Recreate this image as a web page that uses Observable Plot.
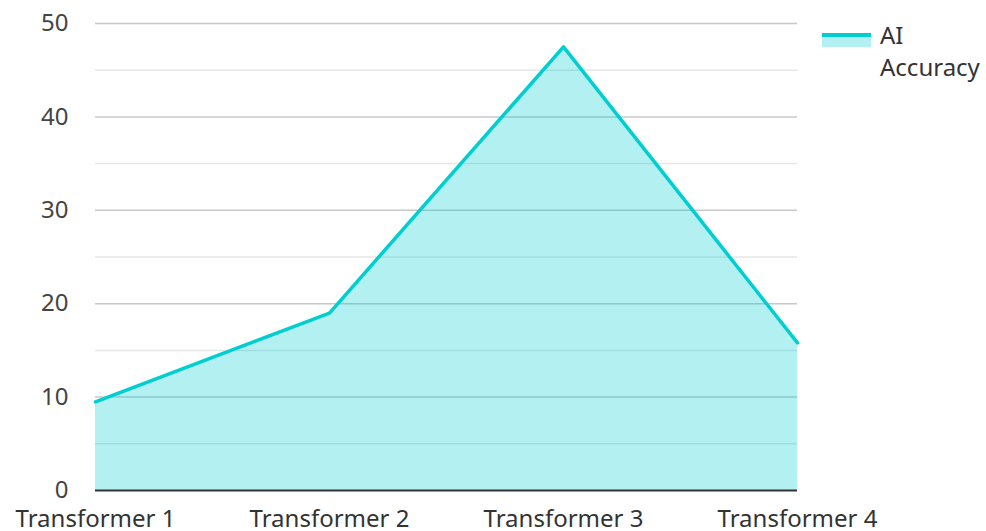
<!DOCTYPE html>
<html>
<head>
<meta charset="utf-8">
<script src="https://cdn.jsdelivr.net/npm/d3@7"></script>
<script src="https://cdn.jsdelivr.net/npm/@observablehq/plot@0.6"></script>
<style>
  html, body { margin: 0; padding: 0; background: #fff; }
  #wrap { position: relative; width: 986px; height: 531px; font-family: "Noto Sans", sans-serif; }
  #legend { position: absolute; left: 822px; top: 19px; display: flex; align-items: flex-start; color: #333; font-size: 24px; line-height: 32px; }
  #legend .sw { width: 49px; height: 14px; margin-top: 14px; margin-right: 9px; background: rgba(0,206,209,0.3); border-top: 4px solid #00CED1; box-sizing: border-box; }
</style>
</head>
<body>
<div id="wrap"><div id="legend"><div class="sw"></div><div>AI<br>Accuracy</div></div></div>
<script>
const categories = ["Transformer 1", "Transformer 2", "Transformer 3", "Transformer 4"];
const accuracy = [9.5, 19, 47.5, 15.8];
const seriesName = "AI Accuracy";
const majorTicks = [0, 10, 20, 30, 40, 50];
const minorTicks = [5, 15, 25, 35, 45];

const data = categories.map((c, i) => ({ category: c, value: accuracy[i] }));
const color = "#00CED1";

const chart = Plot.plot({
  width: 986,
  height: 531,
  marginLeft: 95,
  marginRight: 189,
  marginTop: 23,
  marginBottom: 41,
  style: { fontFamily: "Noto Sans, sans-serif", fontSize: "24px", color: "#444", background: "transparent" },
  x: { type: "point", domain: categories, padding: 0, label: null },
  y: { domain: [0, 50], label: null },
  marks: [
    Plot.ruleY(minorTicks, { stroke: "#e6e6e6", strokeWidth: 1.5 }),
    Plot.ruleY(majorTicks.filter(d => d > 0), { stroke: "#c8c8c8", strokeWidth: 1.5 }),
    Plot.areaY(data, { x: "category", y: "value", fill: color, fillOpacity: 0.3 }),
    Plot.lineY(data, { x: "category", y: "value", stroke: color, strokeWidth: 3.5 }),
    Plot.ruleY([0], { stroke: "#333", strokeWidth: 2 }),
    Plot.axisY({ ticks: majorTicks, tickSize: 0, tickPadding: 27, fontSize: 24, fill: "#444" }),
    Plot.axisX({ tickSize: 0, tickPadding: 19, fontSize: 24, fill: "#333" })
  ]
});
document.getElementById("wrap").prepend(chart);
</script>
</body>
</html>
